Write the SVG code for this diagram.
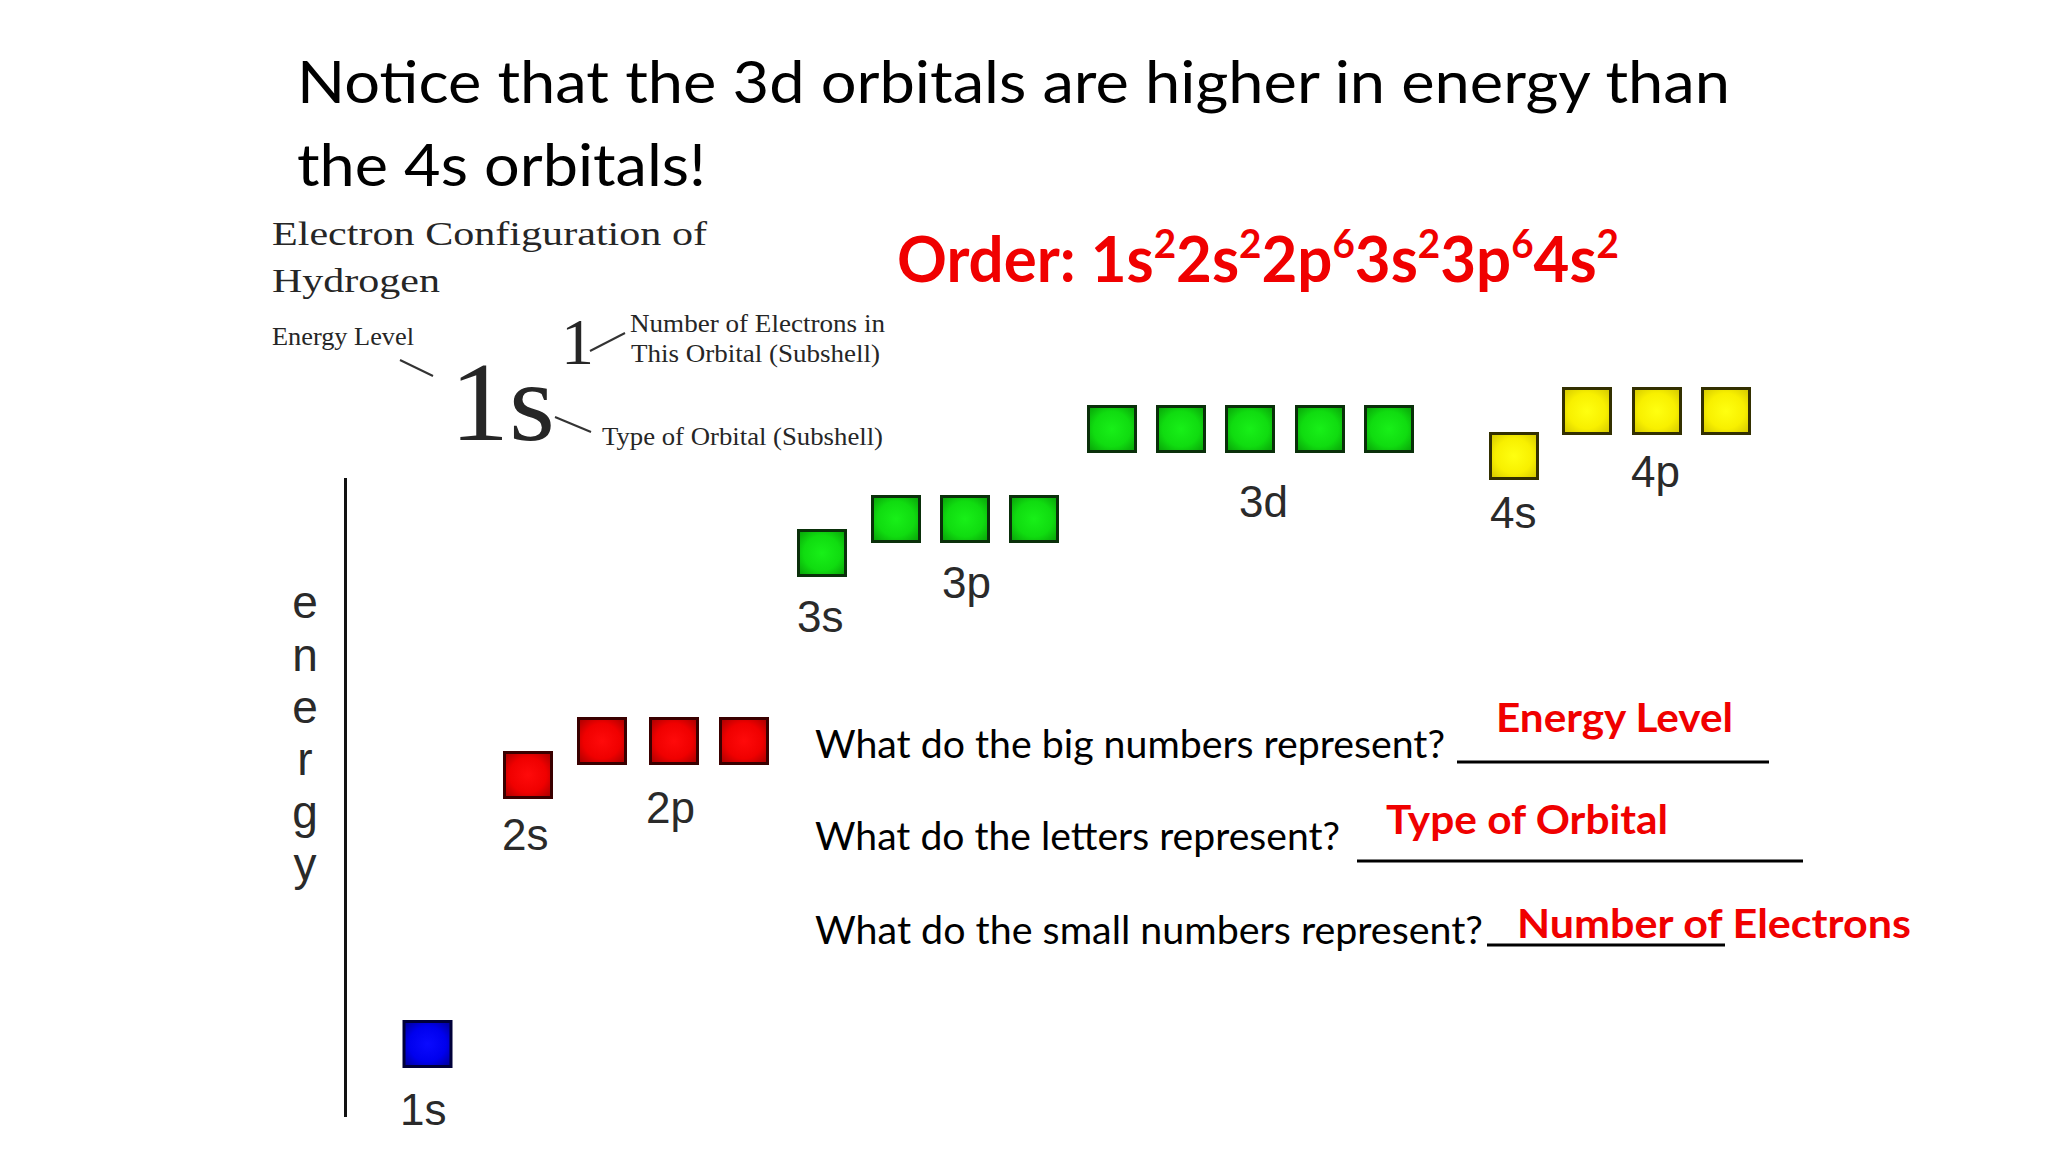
<svg xmlns="http://www.w3.org/2000/svg" width="2048" height="1152" viewBox="0 0 2048 1152">
<defs>
<radialGradient id="gBlue" cx="50%" cy="50%" r="65%"><stop offset="0" stop-color="#0a0aff"/><stop offset="0.6" stop-color="#0000ee"/><stop offset="1" stop-color="#0000a0"/></radialGradient>
<radialGradient id="gRed" cx="50%" cy="50%" r="65%"><stop offset="0" stop-color="#ff0a0a"/><stop offset="0.6" stop-color="#f00000"/><stop offset="1" stop-color="#b00000"/></radialGradient>
<radialGradient id="gGreen" cx="50%" cy="50%" r="65%"><stop offset="0" stop-color="#18f018"/><stop offset="0.6" stop-color="#10dc10"/><stop offset="1" stop-color="#09a809"/></radialGradient>
<radialGradient id="gYellow" cx="50%" cy="50%" r="65%"><stop offset="0" stop-color="#ffff10"/><stop offset="0.6" stop-color="#f8f000"/><stop offset="1" stop-color="#d8cc00"/></radialGradient>
</defs>
<style>
.title{font-family:Lato,"Open Sans",sans-serif;font-size:58px;fill:#000}
.q{font-family:Lato,"Open Sans",sans-serif;font-size:39px;fill:#000}
.ans{font-family:Lato,"Open Sans",sans-serif;font-weight:bold;font-size:41px;fill:#f00000}
.order{font-family:Lato,"Open Sans",sans-serif;font-weight:bold;font-size:64px;fill:#f00000}
.serif{font-family:"Liberation Serif","DejaVu Serif",serif;fill:#262626}
.lbl{font-family:"Liberation Sans",Arial,sans-serif;font-size:44px;fill:#2a2a2a}
.ax{font-family:"Liberation Sans",Arial,sans-serif;font-size:46px;fill:#2a2a2a;text-anchor:middle}
.box{stroke-width:3}
.blue{fill:url(#gBlue);stroke:#00003a}
.red{fill:url(#gRed);stroke:#3a0000}
.green{fill:url(#gGreen);stroke:#0a300a}
.yellow{fill:url(#gYellow);stroke:#333000}
.ul{stroke:#000;stroke-width:3}
.conn{stroke:#333;stroke-width:2;fill:none}
</style>
<rect width="2048" height="1152" fill="#fff"/>

<g id="title">
<text class="title" x="297" y="103" textLength="1433" lengthAdjust="spacingAndGlyphs">Notice that the 3d orbitals are higher in energy than</text>
<text class="title" x="297" y="186" textLength="409" lengthAdjust="spacingAndGlyphs">the 4s orbitals!</text>
</g>

<g id="config-image">
<text class="serif" x="272" y="245" font-size="34" textLength="435" lengthAdjust="spacingAndGlyphs">Electron Configuration of</text>
<text class="serif" x="272" y="292" font-size="34" textLength="168" lengthAdjust="spacingAndGlyphs">Hydrogen</text>
<text class="serif" x="272" y="345" font-size="25" textLength="142" lengthAdjust="spacingAndGlyphs">Energy Level</text>
<text class="serif" x="450" y="440" font-size="112" textLength="105" lengthAdjust="spacingAndGlyphs">1s</text>
<text class="serif" x="561" y="364" font-size="66">1</text>
<text class="serif" x="630" y="332" font-size="25" textLength="255" lengthAdjust="spacingAndGlyphs">Number of Electrons in</text>
<text class="serif" x="631" y="362" font-size="25" textLength="249" lengthAdjust="spacingAndGlyphs">This Orbital (Subshell)</text>
<text class="serif" x="602" y="445" font-size="25" textLength="281" lengthAdjust="spacingAndGlyphs">Type of Orbital (Subshell)</text>
</g>

<g id="connectors">
<line class="conn" x1="400" y1="360" x2="433" y2="376"/>
<line class="conn" x1="590" y1="351" x2="625" y2="333"/>
<line class="conn" x1="555" y1="417" x2="591" y2="432"/>
</g>

<g id="order">
<text class="order" x="897" y="282" textLength="722" lengthAdjust="spacingAndGlyphs">Order: 1s<tspan font-size="40" dy="-24">2</tspan><tspan dy="24">2s</tspan><tspan font-size="40" dy="-24">2</tspan><tspan dy="24">2p</tspan><tspan font-size="40" dy="-24">6</tspan><tspan dy="24">3s</tspan><tspan font-size="40" dy="-24">2</tspan><tspan dy="24">3p</tspan><tspan font-size="40" dy="-24">6</tspan><tspan dy="24">4s</tspan><tspan font-size="40" dy="-24">2</tspan></text>
</g>

<g id="energy-axis">
<line x1="345.5" y1="478" x2="345.5" y2="1117" stroke="#111" stroke-width="3"/>
<text class="ax" x="305" y="618">e</text>
<text class="ax" x="305" y="671">n</text>
<text class="ax" x="305" y="723">e</text>
<text class="ax" x="305" y="775">r</text>
<text class="ax" x="305" y="828">g</text>
<text class="ax" x="305" y="880">y</text>
</g>

<g id="orbital-1s">
<rect class="box blue" x="404" y="1021.5" width="47" height="45"/>
<text class="lbl" x="400" y="1125">1s</text>
</g>

<g id="orbital-2s">
<rect class="box red" x="504.5" y="752.5" width="47" height="45"/>
<text class="lbl" x="502" y="850">2s</text>
</g>

<g id="orbital-2p">
<rect class="box red" x="578.5" y="718.5" width="47" height="45"/>
<rect class="box red" x="650.5" y="718.5" width="47" height="45"/>
<rect class="box red" x="720.5" y="718.5" width="47" height="45"/>
<text class="lbl" x="646" y="823">2p</text>
</g>

<g id="orbital-3s">
<rect class="box green" x="798.5" y="530.5" width="47" height="45"/>
<text class="lbl" x="797" y="632">3s</text>
</g>

<g id="orbital-3p">
<rect class="box green" x="872.5" y="496.5" width="47" height="45"/>
<rect class="box green" x="941.5" y="496.5" width="47" height="45"/>
<rect class="box green" x="1010.5" y="496.5" width="47" height="45"/>
<text class="lbl" x="942" y="598">3p</text>
</g>

<g id="orbital-3d">
<rect class="box green" x="1088.5" y="406.5" width="47" height="45"/>
<rect class="box green" x="1157.5" y="406.5" width="47" height="45"/>
<rect class="box green" x="1226.5" y="406.5" width="47" height="45"/>
<rect class="box green" x="1296.5" y="406.5" width="47" height="45"/>
<rect class="box green" x="1365.5" y="406.5" width="47" height="45"/>
<text class="lbl" x="1239" y="517">3d</text>
</g>

<g id="orbital-4s">
<rect class="box yellow" x="1490.5" y="433.5" width="47" height="45"/>
<text class="lbl" x="1490" y="528">4s</text>
</g>

<g id="orbital-4p">
<rect class="box yellow" x="1563.5" y="388.5" width="47" height="45"/>
<rect class="box yellow" x="1633.5" y="388.5" width="47" height="45"/>
<rect class="box yellow" x="1702.5" y="388.5" width="47" height="45"/>
<text class="lbl" x="1631" y="487">4p</text>
</g>

<g id="questions">
<text class="q" x="815" y="758" textLength="630" lengthAdjust="spacingAndGlyphs">What do the big numbers represent?</text>
<line class="ul" x1="1457" y1="762" x2="1769" y2="762"/>
<text class="ans" x="1496" y="732" textLength="237" lengthAdjust="spacingAndGlyphs">Energy Level</text>
<text class="q" x="815" y="850" textLength="525" lengthAdjust="spacingAndGlyphs">What do the letters represent?</text>
<line class="ul" x1="1357" y1="861" x2="1803" y2="861"/>
<text class="ans" x="1386" y="834" textLength="282" lengthAdjust="spacingAndGlyphs">Type of Orbital</text>
<text class="q" x="815" y="944" textLength="668" lengthAdjust="spacingAndGlyphs">What do the small numbers represent?</text>
<line class="ul" x1="1487" y1="945" x2="1725" y2="945"/>
<text class="ans" x="1517" y="938" textLength="394" lengthAdjust="spacingAndGlyphs">Number of Electrons</text>
</g>
</svg>
